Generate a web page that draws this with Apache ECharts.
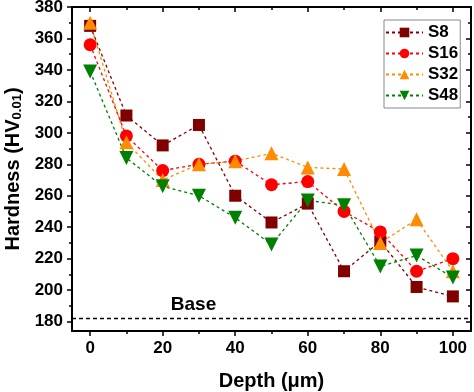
<!DOCTYPE html>
<html>
<head>
<meta charset="utf-8">
<script src="https://cdn.jsdelivr.net/npm/echarts@6/dist/echarts.min.js"></script>
<style>html,body{margin:0;padding:0;background:#fff}#c{width:474px;height:392px}</style>
</head>
<body>
<div id="c"></div>
<script>
const depths = [0, 10, 20, 30, 40, 50, 60, 70, 80, 90, 100];
const s8  = [368, 311, 292, 305, 260, 243, 255, 212, 231, 202, 196];
const s16 = [356, 298, 276, 280, 282, 267, 269, 250, 237, 212, 220];
const s32 = [370, 294, 270, 280, 282, 287, 278, 277, 230, 245, 212];
const s48 = [339, 284, 266, 260, 246, 229, 257, 254, 215, 222, 208];
const baseValue = 182;
const xMajor = [0, 20, 40, 60, 80, 100];
const xMinor = [10, 30, 50, 70, 90];
const yMajor = [180, 200, 220, 240, 260, 280, 300, 320, 340, 360, 380];
const yMinor = [190, 210, 230, 250, 270, 290, 310, 330, 350, 370];

const FONT = '"Liberation Sans", Arial, sans-serif';
const X_MIN = -5, X_MAX = 105, Y_MIN = 174, Y_MAX = 380;

function pairs(vals) { return depths.map((d, i) => [d, vals[i]]); }

function xAx(pos, ticks, len, inside, showLabel, showLine) {
  return {
    type: 'value', position: pos, min: X_MIN, max: X_MAX,
    axisLine: { show: showLine, onZero: false, lineStyle: { color: '#000', width: 2 } },
    axisTick: { show: true, inside: inside, length: len, customValues: ticks, lineStyle: { color: '#000', width: 1.5 } },
    axisLabel: showLabel ? { show: true, customValues: ticks, color: '#000', fontFamily: FONT, fontWeight: 'bold', fontSize: 17, margin: 9 } : { show: false },
    splitLine: { show: false }
  };
}
function yAx(pos, ticks, len, inside, showLabel, showLine) {
  return {
    type: 'value', position: pos, min: Y_MIN, max: Y_MAX,
    axisLine: { show: showLine, onZero: false, lineStyle: { color: '#000', width: 2 } },
    axisTick: { show: true, inside: inside, length: len, customValues: ticks, lineStyle: { color: '#000', width: 1.5 } },
    axisLabel: showLabel ? { show: true, customValues: ticks, color: '#000', fontFamily: FONT, fontWeight: 'bold', fontSize: 17, margin: 9 } : { show: false },
    splitLine: { show: false }
  };
}

const xAxes = [
  xAx('bottom', xMajor, 5, false, true, true),
  xAx('bottom', xMinor, 3, false, false, false),
  xAx('top', xMajor, 5, true, false, true),
  xAx('top', xMinor, 3, true, false, false)
];
xAxes[0].name = 'Depth (\u03bcm)';
xAxes[0].nameLocation = 'middle';
xAxes[0].nameGap = 40;
xAxes[0].nameTextStyle = { color: '#000', fontFamily: FONT, fontWeight: 'bold', fontSize: 20 };

const yAxes = [
  yAx('left', yMajor, 5, false, true, true),
  yAx('left', yMinor, 3, false, false, false),
  yAx('right', yMajor, 5, true, false, true),
  yAx('right', yMinor, 3, true, false, false)
];
yAxes[0].name = '{n|Hardness (HV}{s|0.01}{n|)}';
yAxes[0].nameLocation = 'middle';
yAxes[0].nameGap = 45;
yAxes[0].nameTextStyle = {
  color: '#000',
  rich: {
    n: { fontFamily: FONT, fontWeight: 'bold', fontSize: 20, color: '#000' },
    s: { fontFamily: FONT, fontWeight: 'bold', fontSize: 13, color: '#000', verticalAlign: 'bottom', padding: [8, 0, 0, 0] }
  }
};

function lineSeries(name, vals, color, symbol, size, rotate) {
  return {
    name: name, type: 'line', data: pairs(vals), xAxisIndex: 0, yAxisIndex: 0,
    symbol: symbol, symbolSize: size, symbolRotate: rotate || 0,
    itemStyle: { color: color },
    lineStyle: { color: color, width: 1.3, type: [3, 3] },
    z: 3
  };
}

const series = [
  lineSeries('S8', s8, '#800000', 'rect', 12),
  lineSeries('S16', s16, '#ff0000', 'circle', 13),
  lineSeries('S32', s32, '#ff8c00', 'triangle', 14),
  lineSeries('S48', s48, '#008000', 'triangle', 14, 180)
];
series[0].markLine = {
  silent: true, symbol: ['none', 'none'],
  lineStyle: { color: '#000', type: [4, 3], width: 1.3 },
  label: { show: false },
  data: [{ yAxis: baseValue }]
};
series[0].markPoint = {
  silent: true, symbol: 'circle', symbolSize: 1,
  itemStyle: { color: 'rgba(0,0,0,0)' },
  label: { show: true, position: 'inside', formatter: 'Base', color: '#000', fontFamily: FONT, fontWeight: 'bold', fontSize: 19, offset: [0, -14] },
  data: [{ coord: [28.5, baseValue] }]
};

const chart = echarts.init(document.getElementById('c'), null, { renderer: 'canvas' });
chart.setOption({
  backgroundColor: '#fff',
  animation: false,
  grid: { left: 72, right: 3, top: 7, bottom: 61, containLabel: false, outerBoundsMode: 'none' },
  xAxis: xAxes,
  yAxis: yAxes,
  legend: {
    data: ['S8', 'S16', 'S32', 'S48'],
    orient: 'vertical', left: 384, top: 20,
    itemWidth: 37, itemHeight: 12, itemGap: 4,
    padding: [4, 2, 4, 1],
    borderColor: '#888', borderWidth: 1,
    textStyle: { color: '#000', fontFamily: FONT, fontWeight: 'bold', fontSize: 17 }
  },
  series: series
});
</script>
</body>
</html>
